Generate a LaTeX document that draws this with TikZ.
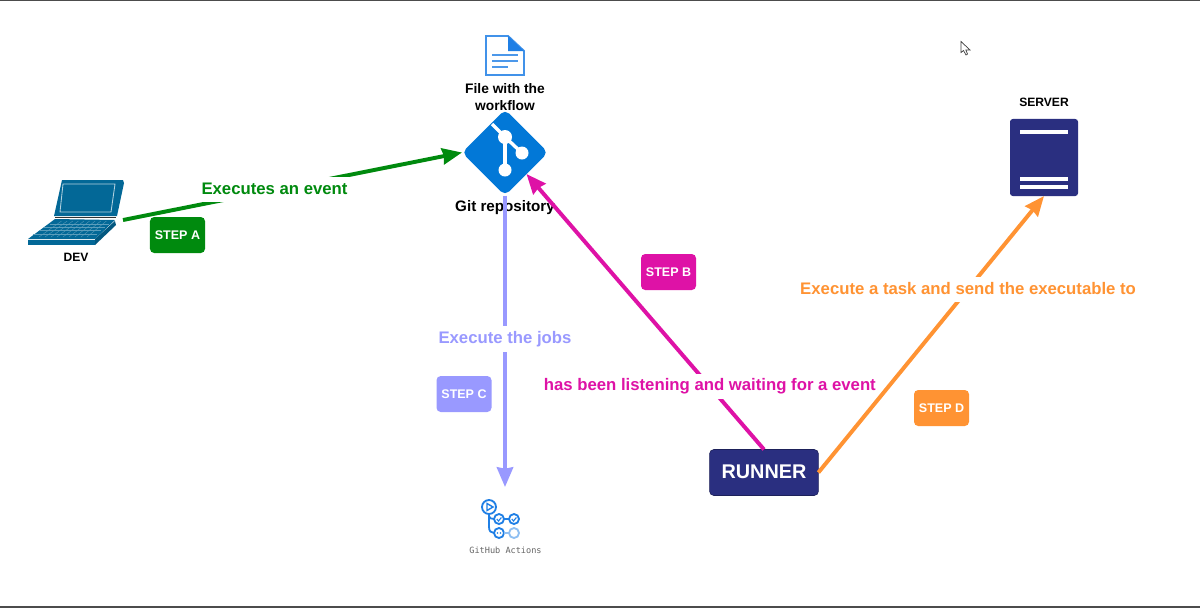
\documentclass[tikz,border=0pt]{standalone}
\usepackage{fontspec}
\setmainfont{Liberation Sans}
\setmonofont{DejaVu Sans Mono}
\usetikzlibrary{shapes.geometric,arrows.meta}
\definecolor{stepgreen}{HTML}{008A0E}
\definecolor{stepmagenta}{HTML}{DE12A6}
\definecolor{steppurple}{HTML}{9999FF}
\definecolor{steporange}{HTML}{FF9333}
\definecolor{navy}{HTML}{2A2F80}
\definecolor{gitblue}{HTML}{0278D7}
\definecolor{laptopblue}{HTML}{036897}
\definecolor{iconblue}{HTML}{1F7FE5}

\begin{document}
\begin{tikzpicture}[x=0.025cm,y=-0.025cm]
\tikzset{
	stepbox/.style={draw=none,
		rounded corners=3pt,
		minimum width=1.375cm,
		minimum height=0.9cm,
		inner sep=0pt,
		text=white,
		font=\bfseries\fontsize{8.9}{11}\selectfont
	},
	flow/.style={line width=2.8pt, -{Stealth[length=14pt,width=11.5pt,inset=1pt]}},
	flowlabel/.style={fill=white, inner xsep=1pt, inner ysep=3pt, text height=9pt, text depth=3pt, font=\bfseries\fontsize{11.9}{14}\selectfont},
	title/.style={inner sep=0pt, font=\bfseries\fontsize{8.6}{10}\selectfont}
}
\useasboundingbox (0,0) rectangle (1200,608);
\fill[white] (0,0) rectangle (1200,608);
\draw[black!70,line width=1pt] (0,0.5) -- (1200,0.5);
\draw[black!70,line width=1pt] (0,607) -- (1200,607);

% laptop
\coordinate (LAPTOP) at (123,220);
\fill[laptopblue] (62,180) -- (123,180) -- (124,183) -- (117,216) -- (54,216) -- cycle;
\draw[white!70!laptopblue,line width=0.6pt] (63,184) -- (115,184) -- (111,212) -- (60,212) -- cycle;
\draw[black!80,line width=0.8pt] (55,217.5) -- (116,217.5);
\fill[laptopblue] (55,219) -- (115,220) -- (95,239) -- (28,239) -- cycle;
\fill[laptopblue] (28,240) -- (95,240) -- (95,245) -- (28,245) -- cycle;
\fill[laptopblue!85!black] (115,221) -- (116,225) -- (95,245) -- (95,239) -- cycle;
\foreach \t in {0.2,0.4,0.6,0.8}
	\draw[white!35!laptopblue,line width=0.25pt] ({55-27*\t},{221+16*\t}) -- ({113-20*\t},{221+16*\t});
\foreach \t in {0.1,0.2,...,0.9}
	\draw[white!35!laptopblue,line width=0.25pt] ({56+56*\t},221) -- ({33+60*\t},237);
\node[title] (DEVLBL) at (76,257) {DEV};

% file icon
\draw[iconblue!85!white,fill=white,line width=1.4pt] (486,36) -- (508,36) -- (524,51) -- (524,75) -- (486,75) -- cycle;
\fill[iconblue] (508,36) -- (524,51) -- (508,51) -- cycle;
\foreach \y/\e in {55/518,61/518,67/508}
	\draw[iconblue!80!white,line width=1.8pt] (492,\y) -- (\e,\y);
\node[align=center, inner sep=0pt, font=\bfseries\fontsize{9.8}{11.6}\selectfont] (FILELBL) at (505,97) {File with the\\workflow};

% git repository
\node[diamond, fill=gitblue, rounded corners=4pt, minimum width=2.15cm, minimum height=2.15cm, inner sep=0pt, outer sep=0pt] (GIT) at (505,152.5) {};
\draw[white,line width=2.4pt] (492,124) -- (505,137) -- (522,153);
\draw[white,line width=2.4pt] (505,137) -- (505,170);
\fill[white] (505,137) circle (7);
\fill[white] (522,153) circle (6.5);
\fill[white] (505,170) circle (6.5);
\node[inner sep=0pt, font=\bfseries\fontsize{10.8}{13}\selectfont] (GITLBL) at (505,208) {Git repository};

% github actions icon
\coordinate (ACTIONS) at (505,487);
\draw[iconblue,line width=1.3pt] (489,507) circle (7);
\draw[iconblue,line width=1pt] (487,503.5) -- (493,507) -- (487,510.5) -- cycle;
\draw[iconblue,line width=1.3pt] (489,514) -- (489,527) .. controls (489,531) and (491,533) .. (494,533);
\draw[iconblue,line width=1.3pt] (489,516) .. controls (489,518) and (491,519) .. (494,519);
\draw[iconblue,line width=1.3pt] (499,519) circle (5) (514,519) circle (5) (499,533) circle (5);
\draw[iconblue,line width=1.3pt] (504,519) -- (509,519);
\draw[iconblue!50!white,line width=1.3pt] (514,533) circle (5);
\draw[iconblue!50!white,line width=1.3pt] (504,533) -- (509,533);
\foreach \x in {499,514}
	\draw[iconblue,line width=0.8pt] (\x-2.2,519) -- (\x-0.5,521) -- (\x+2.4,517.5);
\fill[iconblue] (497.5,533) circle (0.8) (500.5,533) circle (0.8);
\node[inner sep=0pt, text=black!60, font=\ttfamily\fontsize{6.1}{7}\selectfont] (ACTIONSLBL) at (505.5,550) {GitHub Actions};

% runner and server
\node[draw=navy!70!black, fill=navy, rounded corners=3pt, minimum width=2.72cm, minimum height=1.15cm, inner sep=0pt, outer sep=0pt, text=white, font=\bfseries\fontsize{14.1}{16}\selectfont] (RUNNER) at (764,472.5) {\raisebox{1.4pt}{RUNNER}};
\node[fill=navy, rounded corners=2pt, minimum width=1.7cm, minimum height=1.925cm, inner sep=0pt, outer sep=0pt] (SERVER) at (1044,157.5) {};
\foreach \y in {131.5,178.5,186.5}
	\fill[white] (1020,\y-2) rectangle (1068,\y+2);
\node[title] (SERVERLBL) at (1044,102.5) {SERVER};

% mouse pointer
\draw[black!75,fill=white,line width=0.5pt] (961,41.5) -- (961,52.5) -- (963.5,50.5) -- (966,55) -- (967.5,54) -- (965.8,50) -- (970,50) -- cycle;

% steps
\node[stepbox, fill=stepgreen] (STEPA) at (177.5,235) {STEP A};
\node[stepbox, fill=stepmagenta] (STEPB) at (668.5,272) {STEP B};
\node[stepbox, fill=steppurple] (STEPC) at (464,394) {STEP C};
\node[stepbox, fill=steporange] (STEPD) at (941.5,408) {STEP D};

% connectors
{\draw[flow, stepgreen] (LAPTOP) -- (GIT.west) node[pos=0.447, flowlabel] (GREENLBL) {Executes an event};}
{\draw[flow, steppurple] (GIT.south) -- (ACTIONS) node[pos=0.486, yshift=-1.2pt, flowlabel] (PURPLELBL) {Execute the jobs};}
{\draw[flow, stepmagenta] (RUNNER.north) -- (GIT.south east) node[pos=0.234, xshift=1pt, yshift=-1pt, flowlabel] (MAGENTALBL) {has been listening and waiting for a event};}
{\draw[flow, steporange] (RUNNER.east) -- (SERVER.south) node[pos=0.671, xshift=-1.2pt, yshift=-2pt, flowlabel] (ORANGELBL) {Execute a task and send the executable to};}

\end{tikzpicture}
\end{document}
